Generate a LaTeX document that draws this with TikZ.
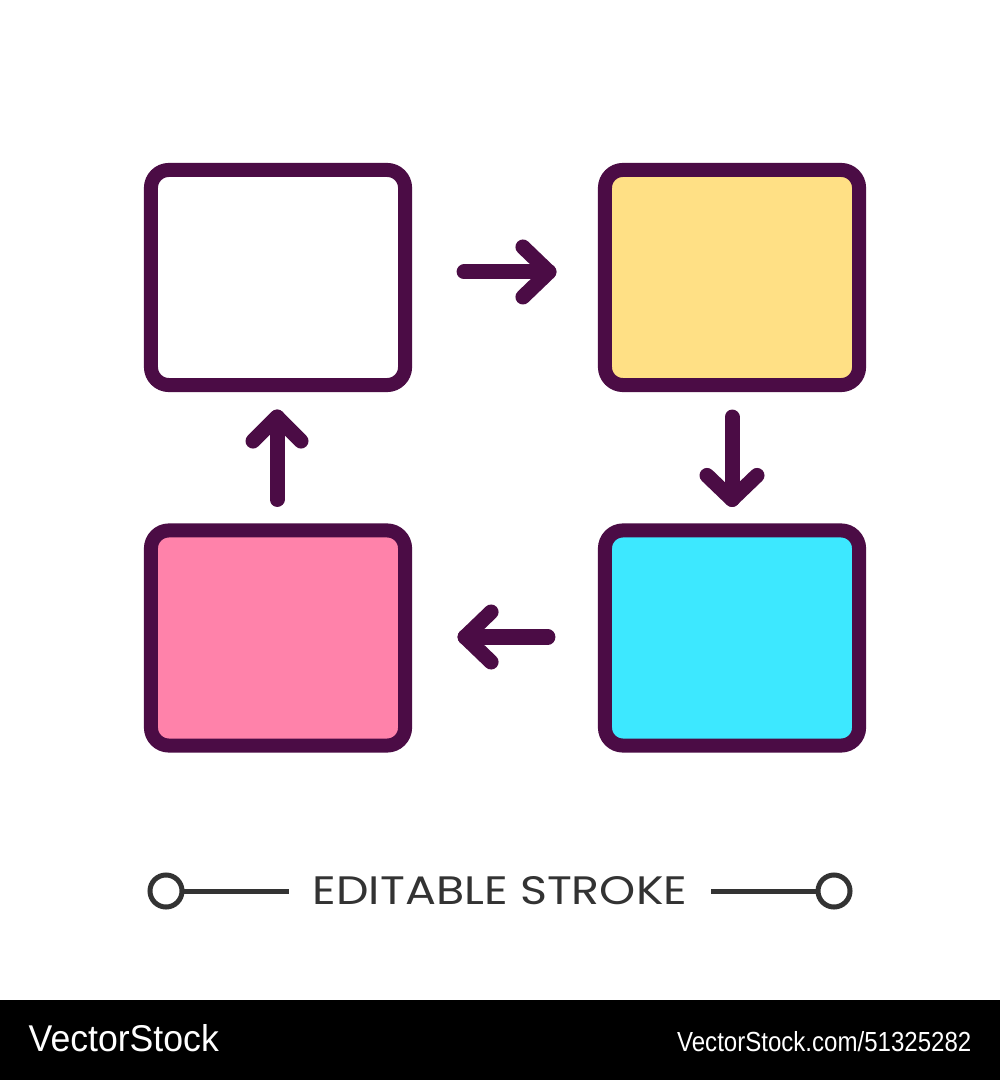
\documentclass[tikz,border=0pt]{standalone}
\usepackage{fontspec}
\setmainfont{Poppins}
\newfontfamily\vsfont{Liberation Sans}
\usetikzlibrary{calc}
\definecolor{stroke}{HTML}{4B0C45}
\definecolor{yel}{HTML}{FFE085}
\definecolor{cya}{HTML}{3DE8FF}
\definecolor{pnk}{HTML}{FF82AA}
\definecolor{legend}{HTML}{333333}
\begin{document}
\begin{tikzpicture}[x=0.01cm,y=-0.01cm,
  box/.style={draw=stroke, line width=0.14cm, rounded corners=0.18cm, outer sep=0pt,
    minimum width=2.54cm, minimum height=2.15cm, inner sep=0pt},
  arr/.style={draw=stroke, line width=0.15cm, line cap=round, line join=round},
  knob/.style={circle, draw=legend, line width=0.05cm, minimum size=0.32cm, inner sep=0pt, outer sep=0pt},
  leg/.style={draw=legend, line width=0.05cm}]
\useasboundingbox (0,0) rectangle (1000,1080);
\fill[white] (0,0) rectangle (1000,1000);
\fill[black] (0,1000) rectangle (1000,1080);
% boxes
\node[box, fill=white] (a) at (278,277.5) {};
\node[box, fill=yel] (b) at (732,277.5) {};
\node[box, fill=pnk] (c) at (278,638) {};
\node[box, fill=cya] (d) at (732,638) {};
% right arrow
\coordinate (r1) at ($(a.east)+(59,-5.5)$);
\coordinate (r2) at ($(b.west)+(-56,-5.5)$);
\draw[arr] (r1) -- (r2);
\draw[arr] ($(r2)+(-26,-25)$) -- (r2) -- ($(r2)+(-26,25)$);
% down arrow
\coordinate (d1) at ($(b.south)+(0,32)$);
\coordinate (d2) at ($(d.north)+(0,-31)$);
\draw[arr] (d1) -- (d2);
\draw[arr] ($(d2)+(-25,-24)$) -- (d2) -- ($(d2)+(25,-24)$);
% left arrow
\coordinate (l1) at ($(d.west)+(-57,-1)$);
\coordinate (l2) at ($(c.east)+(60,-1)$);
\draw[arr] (l1) -- (l2);
\draw[arr] ($(l2)+(26,-25)$) -- (l2) -- ($(l2)+(26,25)$);
% up arrow
\coordinate (u1) at ($(c.north)+(-1,-31)$);
\coordinate (u2) at ($(a.south)+(-1,32)$);
\draw[arr] (u1) -- (u2);
\draw[arr] ($(u2)+(-24,24)$) -- (u2) -- ($(u2)+(24,24)$);
% legend
\node[knob] (k1) at (166,891) {};
\node[knob] (k2) at (834,891) {};
\coordinate (e1) at (289,891);
\coordinate (e2) at (711,891);
\draw[leg] (k1.east) -- (e1);
\draw[leg] (e2) -- (k2.west);
\node[text=legend, inner sep=0pt] (t) at (500,891) {\resizebox{3.74cm}{0.28cm}{EDITABLE STROKE}};
% footer
\node[anchor=west, text=white, inner sep=0pt] (vs) at (28,1038.5) {\vsfont\resizebox{1.9cm}{0.27cm}{VectorStock}};
\node[anchor=east, text=white, inner sep=0pt] (url) at (972,1042) {\vsfont\resizebox{2.94cm}{0.2cm}{VectorStock.com/51325282}};
\end{tikzpicture}
\end{document}
